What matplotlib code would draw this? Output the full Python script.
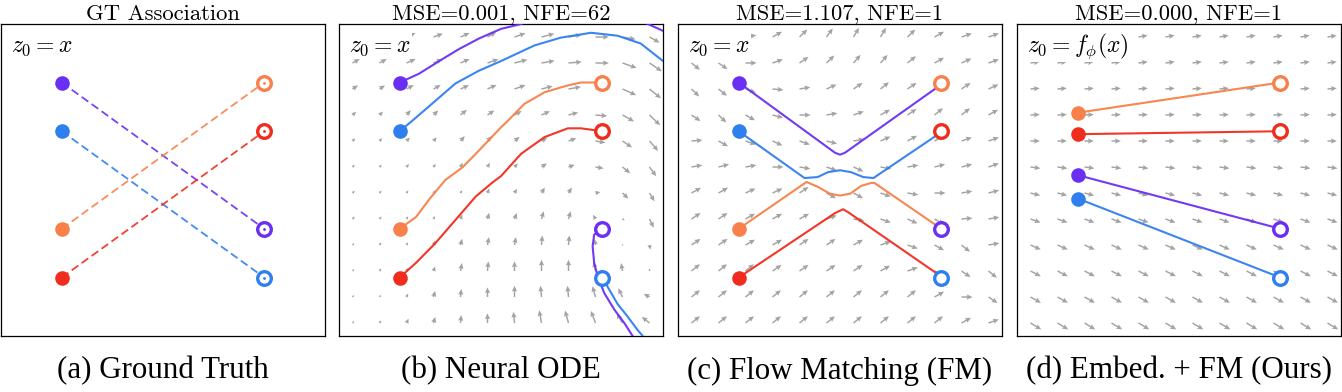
import numpy as np
import matplotlib.pyplot as plt

plt.rcParams['mathtext.fontset'] = 'cm'

PURPLE = '#6a2ff2'
BLUE = '#2f7fef'
ORANGE = '#f8804a'
RED = '#f02c1c'
colors = [PURPLE, BLUE, ORANGE, RED]

# sources (x0) and targets (x1); order: purple, blue, orange, red
src_x = [-1.0, -1.0, -1.0, -1.0]
src_y = [1.0, 0.5, -0.5, -1.0]
tgt_x = [1.0, 1.0, 1.0, 1.0]
tgt_y = [-0.5, -1.0, 1.0, 0.5]
# embedded sources in panel (d)
emb_y = [0.05, -0.19, 0.69, 0.47]

titles = ['GT Association', 'MSE=0.001, NFE=62', 'MSE=1.107, NFE=1', 'MSE=0.000, NFE=1']
captions = ['(a) Ground Truth', '(b) Neural ODE', '(c) Flow Matching (FM)', '(d) Embed. + FM (Ours)']
corner = [r'$z_0 = x$', r'$z_0 = x$', r'$z_0 = x$', r'$z_0 = f_\phi(x)$']

# neural ODE trajectories (segments, clipped by the axes)
b_paths = [
    (PURPLE, [-1.0, -0.81, -0.61, -0.42, -0.22, 0.0, 0.2, 0.3], [1.0, 1.09, 1.22, 1.34, 1.45, 1.55, 1.6, 1.66]),
    (PURPLE, [1.35, 1.45, 1.6, 1.7], [1.66, 1.6, 1.53, 1.45]),
    (PURPLE, [1.0, 0.92, 0.905, 0.92, 0.955, 1.02, 1.12, 1.22, 1.3, 1.33], [-0.5, -0.56, -0.68, -0.85, -0.99, -1.16, -1.33, -1.47, -1.6, -1.65]),
    (BLUE, [-1.0, -0.84, -0.65, -0.45, -0.22, 0.0, 0.33, 0.59, 0.89, 1.15, 1.38, 1.6, 1.7], [0.5, 0.64, 0.81, 0.99, 1.12, 1.22, 1.38, 1.46, 1.51, 1.48, 1.4, 1.22, 1.12]),
    (BLUE, [1.0, 1.05, 1.15, 1.25, 1.35, 1.4, 1.43], [-1.0, -1.09, -1.27, -1.4, -1.54, -1.6, -1.65]),
    (ORANGE, [-1.0, -0.84, -0.71, -0.55, -0.38, -0.22, 0.0, 0.07, 0.23, 0.43, 0.66, 0.79, 1.0], [-0.5, -0.38, -0.2, 0.0, 0.13, 0.3, 0.54, 0.61, 0.78, 0.9, 0.97, 1.0, 1.0]),
    (RED, [-1.0, -0.84, -0.65, -0.45, -0.25, -0.09, 0.0, 0.2, 0.43, 0.66, 0.79, 1.0], [-1.0, -0.85, -0.65, -0.41, -0.17, -0.03, 0.04, 0.27, 0.44, 0.53, 0.53, 0.5]),
]

# flow matching trajectories
c_paths = [
    (PURPLE, [-1.0, -0.05, 0.0, 0.05, 1.0], [1.0, 0.28, 0.26, 0.28, 0.98]),
    (BLUE, [-1.0, -0.35, -0.22, -0.12, 0.0, 0.11, 0.23, 0.33, 1.0], [0.5, 0.02, 0.03, 0.08, 0.1, 0.08, 0.03, 0.02, 0.49]),
    (ORANGE, [-1.0, -0.33, -0.22, -0.1, 0.0, 0.1, 0.21, 0.31, 0.34, 1.0], [-0.5, -0.02, -0.07, -0.14, -0.16, -0.14, -0.06, -0.03, -0.03, -0.5]),
    (RED, [-1.0, -0.05, 0.03, 0.08, 1.0], [-1.0, -0.34, -0.3, -0.33, -0.99]),
]

# arrow grids: angles in degrees, lengths in 1/3 px; rows top to bottom
B_ANG = [
    [30, 30, 25, 20, 25, 30, 20, 15, 10, 0, -10, -30],
    [30, 30, 25, 25, 25, 20, 15, 10, 5, 0, -20, -35],
    [35, 35, 30, 30, 25, 25, 20, 15, 10, 0, -25, -40],
    [40, 45, 50, 45, 40, 35, 30, 25, 15, -5, -30, -45],
    [45, 45, 45, 50, 50, 50, 40, 30, 20, -10, -35, -50],
    [45, 45, 50, 55, 60, 60, 45, 35, 20, -10, -40, -55],
    [45, 50, 55, 60, 60, 70, 60, 60, 60, 10, -45, -60],
    [45, 50, 60, 65, 70, 75, 70, 75, 75, 120, -30, -65],
    [45, 55, 60, 70, 75, 80, 80, 85, 85, 100, 0, -80],
    [50, 55, 60, 70, 80, 85, 90, 90, 90, 100, 100, 90],
    [50, 55, 65, 75, 85, 90, 90, 95, 95, 105, 115, 150],
    [50, 55, 65, 75, 85, 90, 95, 100, 105, 110, 120, 140],
]
B_LEN = [
    [25, 25, 30, 30, 30, 30, 35, 40, 40, 40, 40, 35],
    [25, 25, 30, 30, 30, 35, 40, 40, 40, 40, 45, 45],
    [20, 20, 25, 25, 28, 30, 35, 35, 38, 40, 45, 45],
    [15, 15, 20, 20, 25, 25, 25, 28, 30, 35, 40, 45],
    [12, 12, 15, 15, 20, 20, 20, 20, 25, 30, 35, 40],
    [10, 10, 12, 12, 15, 15, 15, 20, 20, 25, 30, 35],
    [10, 10, 10, 10, 10, 15, 15, 20, 20, 15, 25, 30],
    [10, 10, 10, 10, 15, 20, 20, 25, 25, 15, 8, 30],
    [8, 10, 10, 15, 20, 25, 25, 30, 30, 20, 4, 15],
    [8, 10, 12, 15, 25, 30, 30, 35, 35, 30, 25, 8],
    [8, 8, 12, 20, 25, 30, 35, 35, 35, 35, 30, 20],
    [8, 10, 15, 20, 25, 30, 35, 40, 40, 40, 35, 30],
]
C_ANG = [
    [20, 15, 10, 30, 45, 55, 60, 60, 45, 30, 20, 20],
    [-40, -35, 0, 20, 35, 45, 50, 50, 40, 30, 25, 20],
    [-45, -40, -20, -5, 10, 25, 35, 40, 35, 35, 35, 25],
    [-35, -45, -30, -15, 0, 10, 20, 30, 35, 40, 40, 30],
    [5, -30, -20, -25, -20, -15, 10, 25, 30, 30, 20, 20],
    [10, 15, 10, 0, -10, -20, -25, -10, 10, 15, 15, 20],
    [30, 30, 25, 25, 35, -30, -30, -20, -10, 0, 10, 15],
    [35, 35, 30, 30, 30, 20, -10, -20, -25, -30, 5, 10],
    [35, 35, 30, 30, 35, 35, 30, 20, -20, -30, -40, 10],
    [40, 40, 40, 35, 35, 35, 35, 30, 20, -20, -35, -40],
    [40, 40, 40, 40, 40, 40, 40, 40, 40, 30, 0, -35],
    [40, 40, 40, 40, 40, 40, 40, 40, 40, 40, 30, 20],
]
C_LEN = 33
D_ROW_ANG = [10, 8, 5, 3, 0, -8, -15, -20, -25, -28, -30, -32]
D_ROW_LEN = [28, 28, 28, 28, 28, 30, 30, 32, 34, 35, 36, 38]

LIM = 1.6
grid = np.linspace(-2, 2, 16)[2:14]
GX, GY = np.meshgrid(grid, grid[::-1])
TO_DATA = (2 * LIM) / 324 / 3


def field(ax, ang, ln):
    a = np.radians(np.array(ang, dtype=float))
    l = np.array(ln, dtype=float) * TO_DATA
    ax.quiver(GX, GY, l * np.cos(a), l * np.sin(a), angles='xy', scale_units='xy',
              scale=1, pivot='tail', color='#a3a3a3', width=0.0045,
              headwidth=3.6, headlength=4, headaxislength=3.5, zorder=1)


def endpoints(ax, sy):
    for i in range(4):
        ax.plot(src_x[i], sy[i], 'o', color=colors[i], ms=10.5, mec='none', zorder=5)
        ax.plot(tgt_x[i], tgt_y[i], 'o', mfc='white', mec=colors[i], ms=9.8, mew=2.4, zorder=5)


fig = plt.figure(figsize=(13.42, 3.92), dpi=100)
lefts = [1, 339, 678, 1017]
axes = []
for k in range(4):
    ax = fig.add_axes([lefts[k] / 1342, 56 / 392, 324 / 1342, 312 / 392])
    ax.set_xlim(-LIM, LIM)
    ax.set_ylim(-LIM, LIM)
    ax.set_xticks([])
    ax.set_yticks([])
    for s in ax.spines.values():
        s.set_linewidth(0.9)
    ax.set_title(titles[k], fontfamily='cmr10', fontsize=16.3, pad=3)
    ax.text(0.03, 0.93, corner[k], transform=ax.transAxes, fontsize=17, va='center',
            zorder=6, bbox=dict(facecolor='white', edgecolor='none', pad=1))
    fig.text((lefts[k] + 162) / 1342, 21 / 392, captions[k], ha='center', va='center',
             fontfamily='Liberation Serif', fontsize=22.3)
    axes.append(ax)

# (a) ground truth pairing
ax = axes[0]
for i in range(4):
    ax.plot([src_x[i], tgt_x[i]], [src_y[i], tgt_y[i]], '--', color=colors[i],
            lw=1.3, dashes=(4.5, 2.3), alpha=0.9, zorder=3)
endpoints(ax, src_y)
for i in range(4):
    ax.plot(tgt_x[i], tgt_y[i], '.', color=colors[i], ms=2, zorder=6)

# (b) neural ODE
ax = axes[1]
field(ax, B_ANG, B_LEN)
for c, xs, ys in b_paths:
    ax.plot(xs, ys, color=c, lw=1.5, alpha=0.95, zorder=3)
endpoints(ax, src_y)

# (c) flow matching
ax = axes[2]
field(ax, C_ANG, np.full((12, 12), C_LEN))
for c, xs, ys in c_paths:
    ax.plot(xs, ys, color=c, lw=1.5, alpha=0.95, zorder=3)
endpoints(ax, src_y)

# (d) embedding + FM
ax = axes[3]
field(ax, np.repeat(np.array(D_ROW_ANG)[:, None], 12, axis=1),
      np.repeat(np.array(D_ROW_LEN)[:, None], 12, axis=1))
for i in range(4):
    ax.plot([src_x[i], tgt_x[i]], [emb_y[i], tgt_y[i]], color=colors[i], lw=1.5, alpha=0.95, zorder=3)
endpoints(ax, emb_y)

fig.savefig('out.png', dpi=100)
